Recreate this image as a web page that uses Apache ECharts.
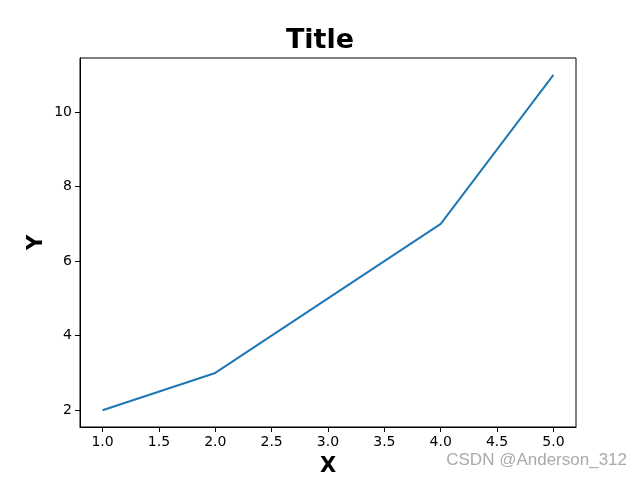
<!DOCTYPE html>
<html><head><meta charset="utf-8">
<script src="https://cdn.jsdelivr.net/npm/echarts@6/dist/echarts.min.js"></script>
<style>html,body{margin:0;padding:0;background:#fff}#c{width:640px;height:480px}</style>
</head><body><div id="c"></div>
<script>
const xValues = [1, 2, 3, 4, 5];
const yValues = [2, 3, 5, 7, 11];
const xTicks = [1.0, 1.5, 2.0, 2.5, 3.0, 3.5, 4.0, 4.5, 5.0];
const yTicks = [2, 4, 6, 8, 10];
const chart = echarts.init(document.getElementById('c'), null, {renderer: 'canvas'});
const font = 'DejaVu Sans';
chart.setOption({
  animation: false,
  title: {text: 'Title', left: 'center', top: 22, textStyle: {fontFamily: font, fontSize: 27, fontWeight: 'bold', color: '#000'}},
  grid: {left: 80, right: 64, top: 58, bottom: 53, containLabel: false, outerBoundsMode: 'none', show: true, borderColor: '#000', borderWidth: 1, backgroundColor: 'transparent'},
  xAxis: {
    type: 'value', min: 0.8, max: 5.2,
    name: 'X', nameLocation: 'middle', nameGap: 29, nameMoveOverlap: false,
    nameTextStyle: {fontFamily: font, fontSize: 21, fontWeight: 'bold', color: '#000'},
    axisLine: {show: true, onZero: false, lineStyle: {color: '#000', width: 1}},
    axisTick: {show: true, length: 5, customValues: xTicks, lineStyle: {color: '#000'}},
    axisLabel: {customValues: xTicks, fontFamily: font, fontSize: 14, color: '#000', margin: 8, formatter: v => v.toFixed(1)},
    splitLine: {show: false}
  },
  yAxis: {
    type: 'value', min: 1.55, max: 11.45,
    name: 'Y', nameLocation: 'middle', nameGap: 33, nameRotate: 90, nameMoveOverlap: false,
    nameTextStyle: {fontFamily: font, fontSize: 21, fontWeight: 'bold', color: '#000'},
    axisLine: {show: true, onZero: false, lineStyle: {color: '#000', width: 1}},
    axisTick: {show: true, length: 5, customValues: yTicks, lineStyle: {color: '#000'}},
    axisLabel: {customValues: yTicks, fontFamily: font, fontSize: 14, color: '#000', margin: 8},
    splitLine: {show: false}
  },
  series: [{
    type: 'line', data: xValues.map((x, i) => [x, yValues[i]]),
    showSymbol: false, symbol: 'none',
    lineStyle: {color: '#1f77b4', width: 2}
  }],
  graphic: [{
    type: 'text', right: 13, top: 452,
    style: {text: 'CSDN @Anderson_312', font: '17px "Liberation Sans"', fill: '#aaaaaa'}
  }]
});
</script></body></html>
